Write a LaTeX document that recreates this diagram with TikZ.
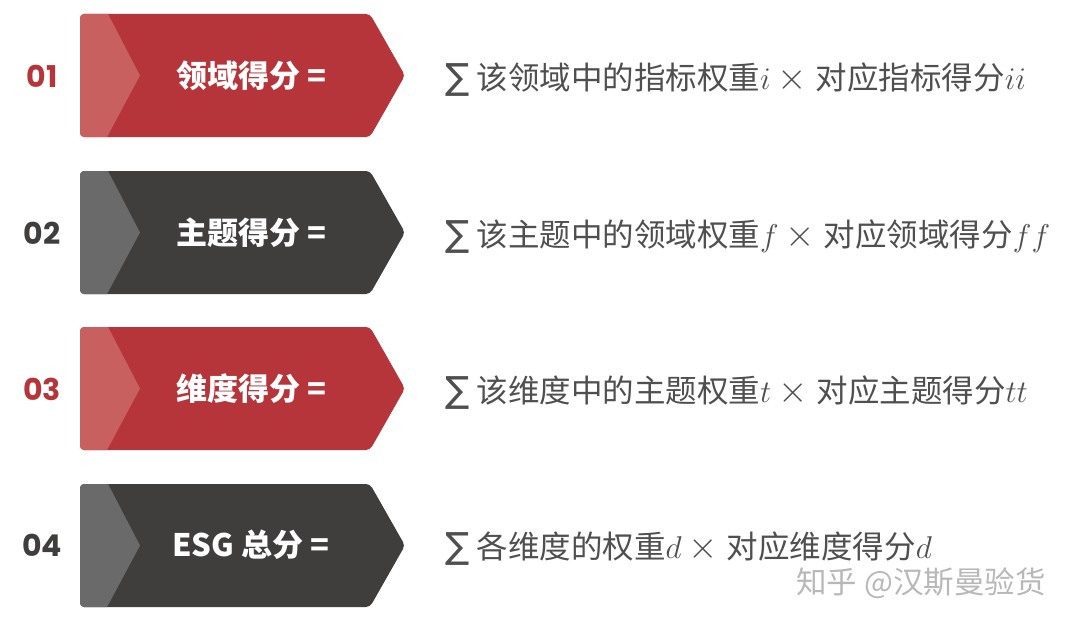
\RequirePackage{fix-cm}
\documentclass[tikz,border=0pt]{standalone}
\usepackage{fontspec}
\newfontfamily\cjk{Noto Sans CJK SC}
\newfontfamily\numfont{Poppins}
\newfontfamily\dv{DejaVu Sans}
\definecolor{esgred}{HTML}{B5353B}
\definecolor{esgredl}{HTML}{C7605F}
\definecolor{esgdark}{HTML}{403D3D}
\definecolor{esgdarkl}{HTML}{6B6A6A}
\definecolor{txtgray}{HTML}{4F4F4F}
\definecolor{wmgray}{HTML}{B8B8B8}
\newcommand{\chevronbox}[3]{%
  \begin{scope}
    \clip[rounded corners=4pt] (80,#1) -- (370,#1) -- (405,#1+61.5) -- (370,#1+123) -- (80,#1+123) -- cycle;
    \fill[#2] (70,#1-2) rectangle (410,#1+125);
    \fill[#3] (70,#1-2) -- (107,#1-2) -- (140,#1+61.5) -- (106,#1+125) -- (70,#1+125) -- cycle;
  \end{scope}}
\newcommand{\sumsign}{{\dv\fontsize{36}{36}\selectfont ∑}}
\newcommand{\mytimes}{\mathbin{\scalebox{1.2}{$\times$}}}
\tikzset{
  boxtxt/.style={text=white, font=\cjk\bfseries\fontsize{31}{36}\selectfont, inner sep=0pt},
  numtxt/.style={font=\numfont\bfseries\fontsize{30}{34}\selectfont, inner sep=0pt},
  formula/.style={text=txtgray, font=\cjk\fontsize{31.5}{36}\selectfont, inner sep=0pt, anchor=base west},
  wmark/.style={text=wmgray, font=\cjk\fontsize{30.5}{34}\selectfont, inner sep=0pt}
}
\begin{document}
\begin{tikzpicture}[x=1pt,y=-1pt]
\useasboundingbox (0,0) rectangle (1080,626);
\fill[white] (0,0) rectangle (1080,626);
% boxes
\chevronbox{14}{esgred}{esgredl}
\chevronbox{171}{esgdark}{esgdarkl}
\chevronbox{327}{esgred}{esgredl}
\chevronbox{484}{esgdark}{esgdarkl}
% numbers
\node[numtxt, text=esgred] (n1) at (42,76) {01};
\node[numtxt, text=esgdark] (n2) at (42,233) {02};
\node[numtxt, text=esgred] (n3) at (42,389) {03};
\node[numtxt, text=esgdark] (n4) at (42,545) {04};
% box texts
\node[boxtxt] (b1) at (251,76) {领域得分 =};
\node[boxtxt] (b2) at (251,233) {主题得分 =};
\node[boxtxt] (b3) at (251,389) {维度得分 =};
\node[boxtxt] (b4) at (251,545) {ESG 总分 =};
% formulas
\node[formula] (f1) at (445,89) {\sumsign\ 该领域中的指标权重$i \mytimes{}$\hspace{2pt}对应指标得分$ii$};
\node[formula] (f2) at (445,246) {\sumsign\ 该主题中的领域权重$f \mytimes{}$\hspace{2pt}对应领域得分$ff$};
\node[formula] (f3) at (445,402) {\sumsign\ 该维度中的主题权重$t \mytimes{}$\hspace{2pt}对应主题得分$tt$};
\node[formula] (f4) at (445,558) {\sumsign\ 各维度的权重$d \mytimes{}$\hspace{2pt}对应维度得分$d$};
% watermark
\node[wmark] (wm) at (921,583) {知乎 @汉斯曼验货};
\end{tikzpicture}
\end{document}
